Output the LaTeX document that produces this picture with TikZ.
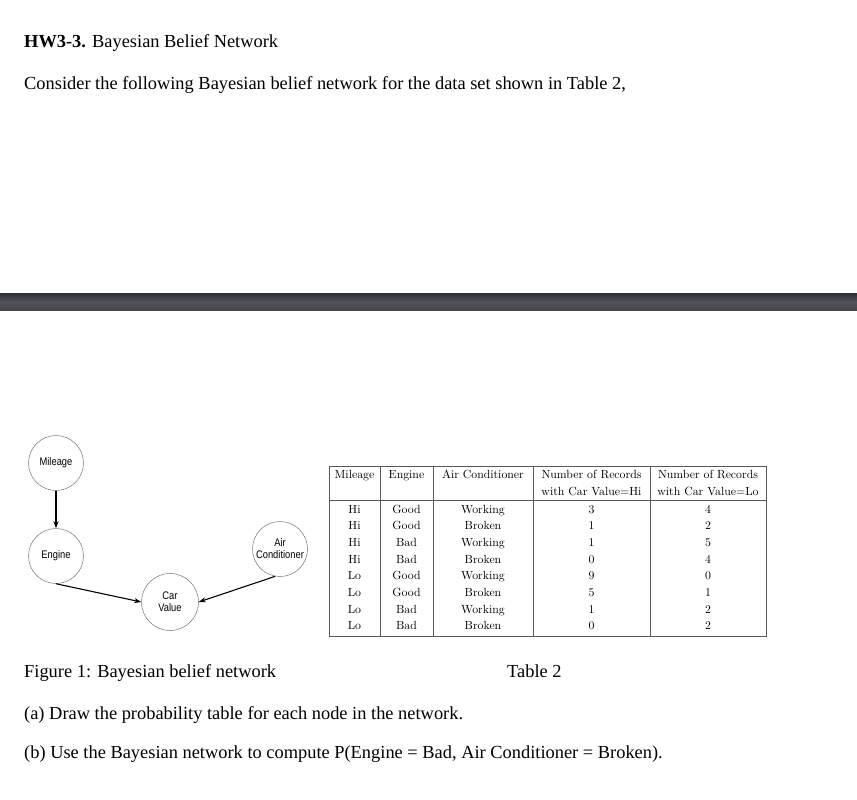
\documentclass[tikz,border=0pt]{standalone}
\usepackage{fontspec}
\setmainfont{Liberation Serif}
\newfontfamily\nodefont[FakeStretch=0.85]{Liberation Sans}
\newfontfamily\tabfont[Extension=.otf]{lmroman10-regular}
\usetikzlibrary{arrows.meta}
\definecolor{barA}{HTML}{2B2E31}
\definecolor{barB}{HTML}{50545A}
\definecolor{barC}{HTML}{44474A}
\begin{document}
\begin{tikzpicture}[x=1pt,y=-1pt,
  txt/.style={anchor=base west,inner sep=0pt,font=\fontsize{18.4}{20}\selectfont},
  bnode/.style={circle,draw=black!55,line width=0.5pt,minimum size=55pt,inner sep=0pt,align=center,
     font=\nodefont\fontsize{11}{13}\selectfont},
  barrow/.style={line width=1.1pt,-{Stealth[length=7pt,width=5pt]}},
  cell/.style={anchor=base,inner sep=0pt,font=\tabfont\fontsize{11.8}{14}\selectfont},
  tline/.style={draw=black!65,line width=0.5pt}]
\useasboundingbox (0,0) rectangle (857,800);

% texts
\node[txt] (title) at (24,48) {\textbf{HW3-3.} Bayesian Belief Network};
\node[txt] (intro) at (24,89) {Consider the following Bayesian belief network for the data set shown in Table 2,};
\node[txt] (fig) at (24,677) {Figure 1: Bayesian belief network};
\node[txt] (tab) at (507,677) {Table 2};
\node[txt] (qa) at (24,719) {(a) Draw the probability table for each node in the network.};
\node[txt] (qb) at (24,758) {(b) Use the Bayesian network to compute P(Engine = Bad, Air Conditioner = Broken).};

% grey bar
\shade[top color=barA,bottom color=barC,middle color=barB] (0,293) rectangle (857,310);

% network
\node[bnode] (mil) at (56,463) {Mileage};
\node[bnode] (eng) at (56,556) {Engine};
\node[bnode,minimum size=57pt] (car) at (170,602) {Car\\[-1pt]Value};
\node[bnode] (air) at (280,549) {Air\\[-1pt]Conditioner};
\draw[barrow] (mil.south) -- (eng.north);
\draw[barrow] (eng.south) -- (car.west);
\draw[barrow] (air.-100) -- (car.east);

% table frame
\draw[tline] (329,466) rectangle (766,636);
\draw[tline] (329,500) -- (766,500);
\foreach \x in {380,433,533,650} \draw[tline] (\x,466) -- (\x,636);

% header
\node[cell] (h1) at (354.5,478) {Mileage};
\node[cell] (h2) at (406.5,478) {Engine};
\node[cell] (h3) at (483,478) {Air Conditioner};
\node[cell] (h4a) at (591.5,478) {Number of Records};
\node[cell] (h4b) at (591.5,495) {with Car Value=Hi};
\node[cell] (h5a) at (708,478) {Number of Records};
\node[cell] (h5b) at (708,495) {with Car Value=Lo};

% rows
\foreach \m/\e/\a/\h/\l [count=\i from 0] in
  {Hi/Good/Working/3/4, Hi/Good/Broken/1/2, Hi/Bad/Working/1/5, Hi/Bad/Broken/0/4,
   Lo/Good/Working/9/0, Lo/Good/Broken/5/1, Lo/Bad/Working/1/2, Lo/Bad/Broken/0/2}{
  \pgfmathsetmacro\yy{513+16.7*\i}
  \node[cell] (m\i) at (354.5,\yy) {\m};
  \node[cell] (e\i) at (406.5,\yy) {\e};
  \node[cell] (a\i) at (483,\yy) {\a};
  \node[cell] (hi\i) at (591.5,\yy) {\h};
  \node[cell] (lo\i) at (708,\yy) {\l};
}
\end{tikzpicture}
\end{document}
